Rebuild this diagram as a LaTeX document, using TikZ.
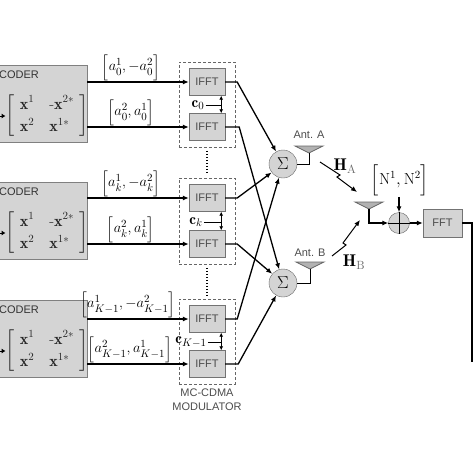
\documentclass[tikz,border=0pt]{standalone}
\usepackage{fontspec}
\setsansfont{Liberation Sans}
\usepackage{amsmath}
\usepackage{tikz}
\usetikzlibrary{arrows.meta,positioning,fit}

\begin{document}
\begin{tikzpicture}[x=1pt, y=-1pt, every node/.style={font=\small},
	blk/.style={draw=black!55, fill=black!17, minimum width=36pt, minimum height=27pt, inner sep=0pt, font=\sffamily\fontsize{11}{13}\selectfont, text=black!70},
	enc/.style={draw=black!50, fill=black!17, minimum width=110pt, minimum height=77pt},
	grp/.style={draw=black!60, densely dashed, inner xsep=10pt, inner ysep=6pt},
	summ/.style={circle, draw=black!60, fill=black!17, minimum size=28pt, inner sep=0pt, font=\fontsize{18}{18}\selectfont},
	lab/.style={font=\sffamily\fontsize{11}{14}\selectfont, text=black!70, inner sep=1pt},
	mlab/.style={font=\fontsize{15}{17}\selectfont, inner sep=1pt},
	sig/.style={line width=1.3pt, -{Latex[length=6pt,width=5pt]}},
	wire/.style={line width=1pt},
	ant/.style={draw=black!60, fill=black!30, line width=0.8pt},
	dots/.style={line width=2pt, dash pattern=on 1.5pt off 1.5pt, shorten <=4pt, shorten >=4pt},
	bolt/.style={line width=1pt, -{Latex[length=6pt,width=5pt]}}]
	\useasboundingbox (0,0) rectangle (474,474);

	% space-time coders
	\node[enc] (enc0) at (32,103.5) {};
	\node[enc] (enck) at (32,220.5) {};
	\node[enc] (encK) at (32,338.5) {};
	\foreach \e/\y in {0/76, k/193, K/311} {
		\node[lab, anchor=west, text=black!80] (cod\e) at (-2,\y-1) {CODER};
		\node[font=\fontsize{16}{19}\selectfont, text=black!85, inner sep=0pt] (mat\e) at (47,\y+40) {$\def\arraystretch{1.2}\left[\begin{array}{l@{\hspace{15pt}}l}\mathbf{x}^1 & \text{-}\mathbf{x}^{2*}\\ \mathbf{x}^2 & \mathbf{x}^{1*}\end{array}\right]$};
		\coordinate (in\e) at (0,\y+40);
		\draw[line width=0.8pt, -{Latex[length=4pt,width=5pt]}] (in\e) -- (mat\e.west);
	}

	% IFFT blocks
	\node[blk] (i01) at (207,82) {IFFT};
	\node[blk] (i02) at (207,127) {IFFT};
	\node[blk] (ik1) at (207,198) {IFFT};
	\node[blk] (ik2) at (207,244) {IFFT};
	\node[blk] (iK1) at (207,319) {IFFT};
	\node[blk] (iK2) at (207,364) {IFFT};

	\node[grp, fit=(i01)(i02)] (g0) {};
	\node[grp, fit=(ik1)(ik2)] (gk) {};
	\node[grp, fit=(iK1)(iK2)] (gK) {};
	\draw[dots] (g0.south) -- (gk.north);
	\draw[dots] (gk.south) -- (gK.north);
	\node[lab, align=center, below=4pt of gK] (modl) {MC-CDMA\\MODULATOR};

	% coder outputs
	\draw[sig] (enc0.east |- i01) -- node[mlab, above, pos=0.43] {$\Big[a_0^1,-a_0^2\Big]$} (i01);
	\draw[sig] (enc0.east |- i02) -- node[mlab, above, pos=0.43] {$\Big[a_0^2,a_0^1\Big]$} (i02);
	\draw[sig] (enck.east |- ik1) -- node[mlab, above, pos=0.43] {$\Big[a_k^1,-a_k^2\Big]$} (ik1);
	\draw[sig] (enck.east |- ik2) -- node[mlab, above, pos=0.43] {$\Big[a_k^2,a_k^1\Big]$} (ik2);
	\draw[sig] (encK.east |- iK1) -- node[mlab, above, pos=0.40] {$\Big[a_{K-1}^1,-a_{K-1}^2\Big]$} (iK1);
	\draw[sig] (encK.east |- iK2) -- node[mlab, above, pos=0.42] {$\Big[a_{K-1}^2,a_{K-1}^1\Big]$} (iK2);

	% spreading codes
	\foreach \g/\cl/\cy/\cx in {0/{0}/105/198, k/{k}/222/196, K/{K-1}/342/191} {
		\draw[line width=1pt, {Latex[length=4pt,width=4pt]}-{Latex[length=4pt,width=4pt]}] ([xshift=-4pt]i\g1.south east) -- coordinate (m\g) ([xshift=-4pt]i\g2.north east);
		\node[mlab] (c\g) at (\cx,\cy) {$\mathbf{c}_{\cl}$};
		\draw[wire] (c\g.east) -- (c\g.east -| m\g);
	}

	% combiners
	\node[summ] (sA) at (283,164) {$\Sigma$};
	\node[summ] (sB) at (283,283) {$\Sigma$};
	\draw[sig] (i01.east) -- ++(12,0) -- (sA);
	\draw[sig] (i02.east) -- ++(14,0) -- (sB);
	\draw[sig] (ik1.east) -- ++(12,0) -- (sA);
	\draw[sig] (ik2.east) -- ++(12,0) -- (sB);
	\draw[sig] (iK1.east) -- ++(12,0) -- (sA);
	\draw[sig] (iK2.east) -- ++(13,0) -- (sB);

	% antennas
	\coordinate (aA) at (309,153);
	\coordinate (aB) at (310,269);
	\coordinate (aR) at (369,209);
	\foreach \a in {aA, aB, aR}
		\draw[ant] (\a) -- ++(-14,-7) -- ++(28,0) -- cycle;
	\draw[wire] (sA) -| (aA);
	\draw[wire] (sB) -| (aB);
	\node[lab, above=13pt of aA] (antA) {Ant. A};
	\node[lab, above=11pt of aB] (antB) {Ant. B};

	% channels
	\coordinate (hA0) at (320,162);
	\coordinate (hA1) at (357,192);
	\draw[bolt] (hA0) -- ++(20,13) -- ++(-3,2) -- (hA1);
	\node[mlab, font=\fontsize{17}{17}\selectfont] (hA) at (345,166) {$\mathbf{H}_{\color{black!60}\mathrm{A}}$};
	\coordinate (hB0) at (332,256);
	\coordinate (hB1) at (360,220);
	\draw[bolt] (hB0) -- ++(14,-11) -- ++(-3,-2) -- (hB1);
	\node[mlab, font=\fontsize{17}{17}\selectfont] (hB) at (354,262) {$\mathbf{H}_{\color{black!60}\mathrm{B}}$};

	% receiver
	\node[circle, draw=black!60, fill=black!17, minimum size=21pt, inner sep=0pt] (pl) at (399,223) {};
	\draw[wire] (pl.north) -- (pl.south) (pl.west) -- (pl.east);
	\node[mlab, font=\fontsize{16}{18}\selectfont] (nz) at (400,180) {$\Big[\mathrm{N}^1,\mathrm{N}^2\Big]$};
	\draw[sig] (nz.south -| pl) -- (pl);
	\draw[sig] (aR) |- (pl);
	\node[blk, minimum width=39pt, minimum height=28pt] (fft) at (442.5,223) {FFT};
	\draw[sig] (pl) -- (fft);
	\coordinate (outE) at (472,362);
	\draw[line width=2pt] (fft.east) -| (outE);
\end{tikzpicture}
\end{document}
